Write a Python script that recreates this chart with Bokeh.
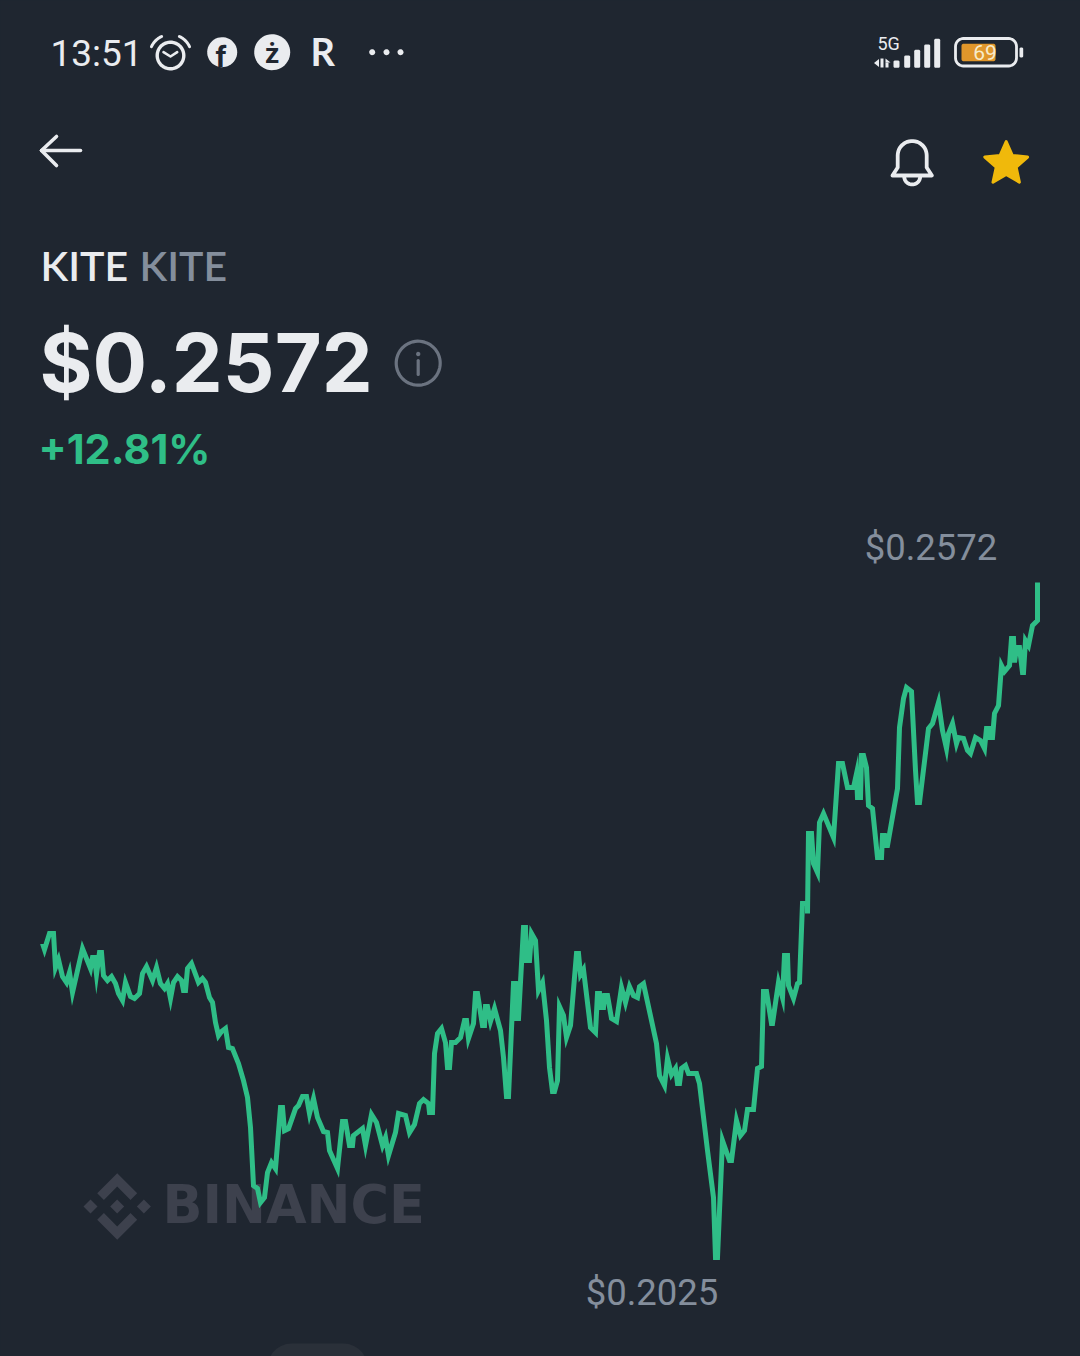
import numpy as np
from bokeh.core.properties import value
from bokeh.embed import file_html
from bokeh.models import Range1d
from bokeh.plotting import figure
from bokeh.resources import INLINE

# ---- chart data: position along the 24h window, price in 1e-4 USD ----
sample = [
    0,2,7,11,13,16,20,24,27,30,
    40,48,50,52,54,57,59,61,65,69,
    73,76,80,83,88,92,97,100,104,110,
    114,118,122,125,128,131,135,139,141,143,
    145,149,156,160,163,167,170,173,176,179,
    183,186,190,196,201,205,208,211,215,218,
    222,225,229,233,238,240,242,246,253,256,
    260,264,267,271,275,281,285,287,295,300,
    303,307,310,311,320,323,329,334,340,343,
    346,353,356,363,367,372,377,381,386,387,
    390,392,395,399,403,405,407,409,413,418,
    422,424,426,431,433,435,440,442,443,445,
    448,452,458,461,464,466,471,473,474,476,
    481,483,484,487,489,493,496,500,504,507,
    510,512,515,517,521,524,528,534,536,538,
    541,548,553,555,557,558,561,562,565,569,
    574,579,583,587,591,595,597,601,614,617,
    622,625,629,633,635,637,639,643,646,654,
    657,665,671,673,675,680,687,689,694,698,
    702,705,711,715,719,721,724,729,730,736,
    740,742,745,746,751,755,757,760,765,765,
    766,769,771,775,777,781,791,796,800,805,
    811,814,815,818,819,821,824,826,830,835,
    839,840,842,843,845,855,857,861,864,869,
    873,875,877,886,890,896,900,904,906,910,
    914,916,921,925,928,933,938,942,944,946,
    946,950,952,956,959,962,967,969,971,972,
    974,977,980,981,983,986,990,995,995,
]
price_e4 = [
    2279.5,2274.6,2287.6,2287.6,2260.0,2266.5,2252.7,2247.9,2256.0,2239.8,
    2275.4,2259.2,2268.1,2268.1,2254.3,2272.2,2272.2,2253.5,2249.5,2252.7,
    2247.0,2238.9,2233.3,2247.9,2236.5,2234.9,2238.9,2255.2,2260.8,2249.5,
    2260.0,2247.0,2243.0,2247.0,2234.9,2247.9,2252.7,2249.5,2241.4,2241.4,
    2259.2,2263.3,2247.9,2251.1,2247.9,2235.7,2231.7,2215.4,2204.9,2208.2,
    2210.6,2195.2,2194.4,2182.2,2168.4,2154.7,2130.4,2083.3,2080.9,2069.6,
    2073.6,2093.9,2102.0,2097.1,2146.6,2146.6,2127.9,2129.5,2145.7,2148.2,
    2155.5,2155.5,2141.7,2153.9,2138.5,2127.1,2126.3,2111.7,2097.1,2135.2,
    2135.2,2115.8,2115.8,2123.9,2129.5,2115.8,2140.9,2134.4,2115.8,2122.2,
    2107.7,2126.3,2141.7,2140.1,2126.3,2132.8,2149.8,2153.0,2149.8,2142.5,
    2142.5,2190.3,2206.5,2210.6,2199.2,2179.0,2179.0,2199.2,2199.2,2203.3,
    2217.1,2217.1,2202.5,2214.6,2238.9,2238.9,2213.0,2213.0,2228.4,2228.4,
    2216.3,2226.8,2209.0,2187.1,2155.5,2155.5,2247.0,2247.0,2218.7,2218.7,
    2292.4,2292.4,2265.7,2265.7,2287.6,2281.9,2241.4,2247.9,2217.1,2179.0,
    2159.5,2159.5,2168.4,2228.4,2221.1,2203.3,2213.0,2271.4,2271.4,2254.3,
    2258.4,2211.4,2207.3,2238.9,2238.9,2227.6,2227.6,2237.3,2237.3,2218.7,
    2216.3,2243.8,2231.7,2244.6,2237.3,2235.7,2244.6,2247.0,2198.4,2172.5,
    2164.4,2186.3,2173.3,2178.2,2166.0,2166.0,2178.2,2180.6,2174.1,2174.1,
    2166.0,2111.7,2073.6,2025.0,2025.0,2119.8,2103.6,2103.6,2136.0,2123.9,
    2127.9,2144.9,2144.9,2178.2,2179.8,2240.6,2240.6,2214.6,2214.6,2247.9,
    2235.7,2269.7,2269.7,2245.4,2234.9,2247.0,2247.9,2311.9,2311.9,2303.8,
    2368.6,2368.6,2344.3,2337.0,2377.5,2384.8,2365.4,2425.3,2425.3,2405.9,
    2405.9,2417.2,2397.8,2397.8,2431.8,2431.8,2422.1,2391.3,2388.9,2349.2,
    2349.2,2367.0,2367.0,2358.9,2358.9,2405.1,2454.5,2478.0,2486.9,2483.7,
    2419.7,2393.7,2393.7,2453.7,2457.8,2474.8,2452.1,2437.5,2449.6,2457.8,
    2441.5,2446.4,2445.6,2435.9,2433.4,2446.4,2444.0,2437.5,2453.7,2453.7,
    2446.4,2446.4,2465.9,2472.3,2504.8,2499.9,2504.8,2526.6,2526.6,2507.2,
    2519.3,2519.3,2499.1,2499.1,2525.0,2521.0,2537.2,2541.2,2572.0,
]
assert len(sample) == len(price_e4), (len(sample), len(price_e4))
price = [v / 1e4 for v in price_e4]

title_name = "KITE"
title_pair = "KITE"
headline_price = "$0.2572"
headline_change = "+12.81%"
high_label = "$0.2572"
low_label = "$0.2025"
watermark = "BINANCE"
clock = "13:51"
network = "5G"
battery = "69"

BG = "#1f2630"
GREEN = "#2fbe87"
WHITE = "#eaecef"
GREY = "#848e9c"
MARK = "#3d414d"

W, H = 1080, 1356
p = figure(width=W, height=H, output_backend="svg", toolbar_location=None,
           x_axis_location=None, y_axis_location=None,
           x_range=Range1d(-42, 1038), y_range=Range1d(0.19448, 0.30437),
           min_border=0, min_border_left=0, min_border_right=0, min_border_top=0, min_border_bottom=0)
p.grid.visible = False
p.outline_line_color = None
p.background_fill_color = BG
p.border_fill_color = BG
# page-pixel space for the screen furniture around the chart
p.extra_x_ranges["px"] = Range1d(0, 1080)
p.extra_y_ranges["px"] = Range1d(1356, 0)
PX = dict(x_range_name="px", y_range_name="px")

BASE_SHIFT = {"Roboto": 0.38, "Lato": 0.39, "Lato Semibold": 0.39, "Lato Medium": 0.39, "Inter": 0.35, "DejaVu Sans": 0.38}


def label(x, y, s, font, size, color, style="normal", align="left"):
    yy = y - BASE_SHIFT[font] * size
    p.text(x=[x], y=[yy], text=[s], text_font=value(font), text_font_size=f"{size}px",
           text_color=color, text_font_style=style, text_align=align,
           text_baseline="alphabetic", **PX)


def arc(cx, cy, r, a0, a1, n=24):
    a = np.radians(np.linspace(a0, a1, n))
    return cx + r * np.cos(a), cy + r * np.sin(a)


def stroke(xs, ys, color, width, cap="round", join="round"):
    p.line(list(xs), list(ys), line_color=color, line_width=width, line_cap=cap, line_join=join, **PX)


def fill(xs, ys, color):
    p.patch(list(xs), list(ys), fill_color=color, line_color=None, **PX)


def rrect(l, t, r, b, rad):
    parts = [arc(r - rad, t + rad, rad, -90, 0, 8), arc(r - rad, b - rad, rad, 0, 90, 8),
             arc(l + rad, b - rad, rad, 90, 180, 8), arc(l + rad, t + rad, rad, 180, 270, 8)]
    xs = np.concatenate([q[0] for q in parts] + [[r - rad]])
    ys = np.concatenate([q[1] for q in parts] + [[t]])
    return xs, ys


# --- status bar ---
label(50, 67, clock, "Roboto", 37, WHITE)
x, y = arc(170, 55, 13.3, 0, 360, 48)
stroke(x, y, WHITE, 3.4)
stroke([163, 170, 176.7], [51.7, 56, 51.7], WHITE, 2.6)
xe, ye = arc(170, 55, 21, 205, 245, 8)
stroke(xe, ye, WHITE, 3)
xe, ye = arc(170, 55, 21, 295, 335, 8)
stroke(xe, ye, WHITE, 3)
x, y = arc(221.7, 51.7, 15, 0, 360, 48)
fill(x, y, WHITE)
label(215, 67, "f", "Roboto", 30, BG, "bold")
x, y = arc(271.7, 51.7, 18, 0, 360, 48)
fill(x, y, WHITE)
label(271.7, 64, "ż", "Roboto", 28, BG, "bold", "center")
label(310, 65, "R", "Lato", 38, WHITE, "bold")
for cx in (371.7, 386, 400):
    x, y = arc(cx, 51.7, 3, 0, 360, 16)
    fill(x, y, WHITE)

label(877, 50, network, "Roboto", 18, WHITE)
for cx, top in zip((896, 906.7, 916.7, 926.7, 936.7), (60, 55, 49.3, 44, 38.3)):
    x, y = rrect(cx - 3, top, cx + 3, 67.3, 1.5)
    fill(x, y, WHITE)
fill([873.5, 878.5, 878.5], [62.5, 58.5, 66.5], WHITE)
fill([880, 883, 883, 880], [58, 58, 67, 67], WHITE)
fill([885, 890, 885], [58, 62, 62], WHITE)
fill([885, 888, 888, 885], [62, 62, 67, 67], WHITE)

x, y = rrect(961, 43.3, 995, 60.7, 2)
fill(x, y, "#e0962b")
x, y = rrect(955, 38, 1016, 65.5, 8)
stroke(x, y, WHITE, 2.8)
x, y = rrect(1019, 47, 1022.7, 57, 1.5)
fill(x, y, WHITE)
label(984.5, 60, battery, "Roboto", 21, "#f7eccb", "normal", "center")

# --- header icons ---
stroke([41, 80], [150, 150], WHITE, 3.6)
stroke([56, 41, 56], [136, 150, 165], WHITE, 3.6)

xl, yl = arc(911.7, 155, 14.5, 180, 360)
bx = np.concatenate([[892, 897.2], xl, [926.2, 931.4, 892]])
by = np.concatenate([[175, 167], yl, [167, 175, 175]])
stroke(bx, by, WHITE, 3.8)
xc, yc = arc(911.7, 176, 8, 0, 180, 14)
stroke(xc, yc, WHITE, 3.8)

ang = np.radians(np.arange(10) * 36 - 90)
rad = np.where(np.arange(10) % 2 == 0, 22.5, 10.5)
sx, sy = 1005.7 + rad * np.cos(ang), 163.5 + rad * np.sin(ang)
p.patch(list(sx), list(sy), fill_color="#f0b90b", line_color="#f0b90b", line_width=3, line_join="round", **PX)

# --- title block ---
label(40, 281, title_name, "Lato Semibold", 41, WHITE)
label(139, 281, title_pair, "Lato Semibold", 41, GREY)
label(39, 391, headline_price, "Inter", 81, WHITE, "bold")
x, y = arc(417.7, 362.7, 22, 0, 360, 60)
stroke(x, y, "#6b7380", 3.2)
stroke([417.7, 417.7], [360, 374], "#6b7380", 3.2)
x, y = arc(417.7, 353.5, 2.2, 0, 360, 12)
fill(x, y, "#6b7380")
label(38, 463, headline_change, "Inter", 41.5, GREEN, "bold")

# --- watermark (beneath the line) ---
for cx in (90, 116.7, 143.4):
    fill([cx - 7, cx, cx + 7, cx], [1206, 1199, 1206, 1213], MARK)
fill([116.7, 136.7, 130, 116.7, 103.4, 96.7], [1172.7, 1192.7, 1199.4, 1186, 1199.4, 1192.7], MARK)
fill([116.7, 136.7, 130, 116.7, 103.4, 96.7], [1239.3, 1219.3, 1212.6, 1226, 1212.6, 1219.3], MARK)
label(162, 1224, watermark, "DejaVu Sans", 52.5, MARK, "bold")

# --- price line ---
p.line(sample, price, line_color=GREEN, line_width=5, line_join="miter", line_cap="butt")

label(930.5, 561, high_label, "Roboto", 36.5, GREY, "normal", "center")
label(651.5, 1306, low_label, "Roboto", 36.5, GREY, "normal", "center")

# --- bottom pill ---
x, y = rrect(267, 1343, 367, 1390, 24)
fill(x, y, "#2a3039")

html = file_html(p, INLINE)
html = html.replace("<head>", "<head><style>html,body{background:#1f2630}</style>", 1)
open("out.html", "w").write(html)
